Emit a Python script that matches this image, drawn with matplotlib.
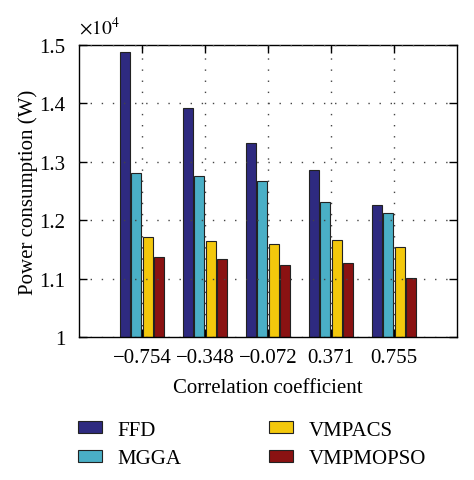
import numpy as np
import matplotlib
matplotlib.use("Agg")
import matplotlib.pyplot as plt

plt.rcParams['font.family'] = ['Liberation Serif', 'DejaVu Serif']
plt.rcParams['mathtext.fontset'] = 'stix'

categories = ['\u22120.754', '\u22120.348', '\u22120.072', '0.371', '0.755']
series = ['FFD', 'MGGA', 'VMPACS', 'VMPMOPSO']
ffd = [1.488, 1.392, 1.333, 1.286, 1.226]
mgga = [1.281, 1.275, 1.267, 1.231, 1.212]
vmpacs = [1.172, 1.164, 1.159, 1.166, 1.154]
vmpmopso = [1.137, 1.133, 1.124, 1.126, 1.101]
colors = ['#2e2a80', '#4aafc6', '#f3c80c', '#8a1212']

fig = plt.figure(figsize=(4.74, 4.81), dpi=100)
ax = fig.add_axes([79 / 474, 1 - 338 / 481, 378 / 474, 292 / 481])

x = np.arange(1, len(categories) + 1)
width = 0.16
offsets = [-0.27, -0.09, 0.09, 0.27]
for vals, name, c, off in zip([ffd, mgga, vmpacs, vmpmopso], series, colors, offsets):
    ax.bar(x + off, np.array(vals) - 1.0, width, bottom=1.0, color=c,
           edgecolor='#222222', linewidth=0.8, label=name, zorder=2)

ax.set_xlim(0, 6)
ax.set_ylim(1.0, 1.5)
ax.set_xticks(x)
ax.set_xticklabels(categories)
ax.set_yticks([1.0, 1.1, 1.2, 1.3, 1.4, 1.5])
ax.set_yticklabels(['1', '1.1', '1.2', '1.3', '1.4', '1.5'])
ax.tick_params(direction='in', top=True, right=True, length=6, width=1,
               labelsize=15)
ax.tick_params(axis='y', pad=10)
ax.tick_params(axis='x', pad=8)
ax.grid(True, linestyle=(0, (1, 7)), color='#444444', linewidth=1.0, zorder=3)
ax.set_axisbelow(False)
for s in ax.spines.values():
    s.set_linewidth(1.0)

ax.set_xlabel('Correlation coefficient', fontsize=15, labelpad=8)
ax.set_ylabel('Power consumption (W)', fontsize=15, labelpad=1)
ax.text(0.0, 1.025, r'$\times 10^4$', transform=ax.transAxes, fontsize=14,
        ha='left', va='bottom')

fig.legend(loc='upper left', bbox_to_anchor=(59 / 474, 1 - 403 / 481), ncol=2,
           frameon=False, fontsize=15, handlelength=1.15, handleheight=0.5,
           columnspacing=4.2, labelspacing=0.45, handletextpad=0.75)

fig.savefig('out.png', dpi=100)
